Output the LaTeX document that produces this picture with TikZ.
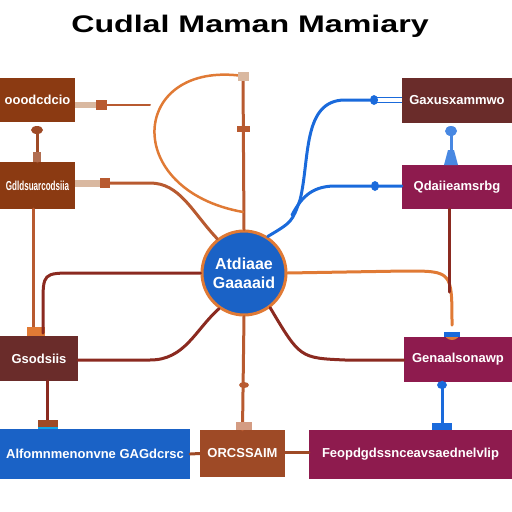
\documentclass[tikz,border=0pt]{standalone}
\usepackage{fontspec}
\setmainfont{Liberation Sans}
\definecolor{rustbox}{HTML}{8B3A12}
\definecolor{darkbox}{HTML}{6A2C2A}
\definecolor{plumbox}{HTML}{8E1B4E}
\definecolor{bluebox}{HTML}{1A62C6}
\definecolor{siennabox}{HTML}{9E4A26}
\definecolor{orangewire}{HTML}{E07A35}
\definecolor{rustwire}{HTML}{B85A30}
\definecolor{redwire}{HTML}{8B2A20}
\definecolor{bluewire}{HTML}{1A6ADB}
\definecolor{plugbeige}{HTML}{D9B8A0}
\tikzset{box/.style = {rectangle, inner sep = 0, text = white, font = \bfseries\fontsize{13}{15}\selectfont}}
\tikzset{wire/.style = {line width = 3, line cap = round}}
\tikzset{title/.style = {font = \bfseries\fontsize{24}{28}\selectfont, anchor = base}}
\begin{document}
\begin{tikzpicture}[x=1pt,y=-1pt]
\useasboundingbox (0,0) rectangle (512,512);
\node[title] (title) at (250,32) {\scalebox{1.34}[1]{Cudlal Maman Mamiary}};
\node[box, fill=rustbox, minimum width=75, minimum height=44] (oood) at (37.5,100) {ooodcdcio};
\node[box, fill=rustbox, minimum width=75, minimum height=47] (gdld) at (37.5,185.5) {\scalebox{0.62}[1]{Gdldsuarcodsiia}};
\node[box, fill=darkbox, minimum width=78, minimum height=45] (gsod) at (39,358.5) {Gsodsiis};
\node[box, fill=bluebox, minimum width=190, minimum height=50] (alfo) at (95,454) {Alfomnmenonvne GAGdcrsc};
\node[box, fill=siennabox, minimum width=85, minimum height=47] (orcs) at (242.5,453.5) {ORCSSAIM};
\node[box, fill=plumbox, minimum width=203, minimum height=49] (feop) at (410.5,454.5) {Feopdgdssnceavsaednelvlip};
\node[box, fill=darkbox, minimum width=110, minimum height=45] (gaxu) at (457,100.5) {Gaxusxammwo};
\node[box, fill=plumbox, minimum width=110, minimum height=44] (qdai) at (457,187) {Qdaiieamsrbg};
\node[box, fill=plumbox, minimum width=108, minimum height=45] (gena) at (458,359.5) {Genaalsonawp};
\node[circle, fill=bluebox, draw=orangewire, line width=3, minimum size=84, inner sep=0, align=center, text=white, font=\bfseries\fontsize{16}{19}\selectfont] (hub) at (244,273) {Atdiaae\\Gaaaaid};
\coordinate (top) at (243,76);
\coordinate (ooodend) at (150,105);
\draw[wire, rustwire] (hub.north) -- (top);
\draw[wire, orangewire, line width=2.5] (top) .. controls (130,60) and (120,190) .. (243,212);
\fill[plugbeige] (238,72) rectangle (249,81);
\fill[rustwire] (237,126) rectangle (250,132);
\fill[plugbeige] (75,102) rectangle (96,108);
\fill[rustwire] (96,100) rectangle (107,110);
\draw[wire, rustwire, line width=2] (107,105) -- (ooodend);
\draw[wire, siennabox] (37,130) -- (gdld.north -| 37,0);
\fill[siennabox] (37,130) ellipse (6 and 4);
\fill[siennabox!80!white] (33,152) rectangle (41,162);
\fill[plugbeige] (75,180) rectangle (100,187);
\fill[rustwire] (100,178) rectangle (110,188);
\draw[wire, rustwire] (110,183) -- (150,183) .. controls (180,183) and (192,212) .. (hub.128);
\draw[wire, rustwire] (gdld.south -| 33,0) -- (33,328);
\fill[orangewire] (27,327) rectangle (45,336);
\draw[wire, redwire] (43,333) -- (43,305) .. controls (43,273) .. (75,273) -- (hub.west);
\draw[wire, redwire] (gsod.east |- 0,360) -- (150,360) .. controls (185,360) and (195,330) .. (hub.235);
\draw[wire, redwire] (gsod.south -| 47,0) -- (47,420);
\fill[siennabox] (38,420) rectangle (58,428);
\fill[bluewire!60!cyan] (38,427) rectangle (58,429);
\draw[wire, siennabox] (alfo.east) -- (orcs.west);
\draw[wire, rustwire] (hub.south) -- (orcs.north);
\fill[rustwire] (244,385) ellipse (5 and 3);
\fill[rustwire!60!white] (236,422) rectangle (252,430);
\draw[wire, siennabox] (orcs.east |- 0,452) -- (feop.west |- 0,452);
\draw[wire, orangewire] (hub.east) -- (405,271) .. controls (452,271) .. (452,325);
\fill[orangewire] (444,332) arc (180:0:8) -- cycle;
\fill[bluewire] (444,332) rectangle (460,337);
\draw[wire, redwire] (qdai.south -| 449,0) -- (449,292);
\draw[wire, redwire] (hub.307) .. controls (300,358) .. (345,360) -- (gena.west |- 0,360);
\draw[wire, bluewire] (gena.south -| 442,0) -- (442,424);
\fill[bluewire] (442,385) ellipse (5 and 4);
\fill[bluewire] (432,423) rectangle (452,430);
\fill[bluewire!80!white] (451,131) ellipse (6 and 5);
\draw[wire, bluewire!80!white] (451,131) -- (451,150);
\fill[bluewire!80!white] (448,150) -- (454,150) -- (458,165) -- (444,165) -- cycle;
\draw[bluewire, line width=1.2] (374,97.5) -- (gaxu.west |- 0,97.5);
\draw[bluewire, line width=1.2] (374,102.5) -- (gaxu.west |- 0,102.5);
\fill[bluewire] (374,100) ellipse (4 and 5);
\draw[wire, bluewire] (374,100) -- (345,100) .. controls (302,100) and (310,160) .. (300,200) .. controls (292,222) .. (hub.57);
\draw[wire, bluewire] (qdai.west |- 0,186) -- (335,186) .. controls (310,186) and (300,200) .. (292,215);
\fill[bluewire] (375,186) ellipse (4 and 5);
\end{tikzpicture}
\end{document}
